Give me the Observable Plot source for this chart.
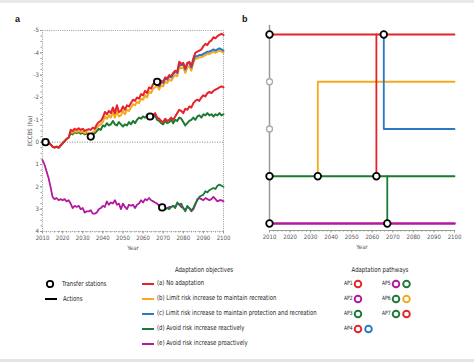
<!DOCTYPE html>
<html><head><meta charset="utf-8">
<script src="https://cdn.jsdelivr.net/npm/d3@7"></script>
<script src="https://cdn.jsdelivr.net/npm/@observablehq/plot@0.6"></script>
<style>
html,body{margin:0;padding:0;background:#fff;}
#fig{position:relative;width:474px;height:362px;overflow:hidden;background:#fff;font-family:"Liberation Sans Narrow","DejaVu Sans Condensed","Liberation Sans",sans-serif;}
#topband{position:absolute;left:0;top:0;width:474px;height:3px;background:#e9e9e9;}
#botband{position:absolute;left:0;top:359px;width:474px;height:3px;background:#e4e4e4;}
.plab{position:absolute;font-family:"Liberation Sans",Arial,sans-serif;font-weight:bold;font-size:9px;color:#111;}
.abs{position:absolute;}
.lg{position:absolute;font-size:7px;color:#222;white-space:nowrap;line-height:1;transform:scaleX(0.85);transform-origin:0 0;}
.lgc{position:absolute;font-size:7px;color:#222;white-space:nowrap;line-height:1;transform:translateX(-50%) scaleX(0.85);transform-origin:50% 0;}
</style></head>
<body><div id="fig"><div id="topband"></div><div id="botband"></div></div>
<script>
// ---------- Panel a data (axis values of ECCBS in ha; negative plotted upward) ----------
const redStart = 2010;
const redVals = [0,-0.02,-0.05,0.02,0.1,0.2,0.24,0.2,0.25,0.15,0.05,-0.05,-0.15,-0.2,
 -0.55,-0.5,-0.6,-0.55,-0.62,-0.55,-0.6,-0.5,-0.55,-0.58,-0.55,-0.65,-0.6,-0.8,-0.9,-0.95,
 -1.1,-1.35,-1.25,-1.4,-1.3,-1.55,-1.3,-1.65,-1.35,-1.4,-1.6,-1.45,-1.65,-1.6,-1.75,-1.9,
 -1.85,-2.0,-1.95,-2.15,-2.1,-2.3,-2.2,-2.45,-2.4,-2.6,-2.65,-2.75,-2.55,-2.75,-2.7,-2.9,
 -2.85,-3.0,-2.95,-3.1,-3.2,-3.15,-3.6,-3.5,-3.55,-3.3,-3.55,-3.6,-3.4,-3.75,-4.0,-4.05,
 -4.1,-4.15,-4.3,-4.4,-4.35,-4.5,-4.55,-4.7,-4.65,-4.75,-4.8,-4.85,-4.8];
const orangeStart = 2024;
const orangeVals = [-0.45,-0.42,-0.5,-0.45,-0.5,-0.45,-0.48,-0.4,-0.45,-0.4,-0.35,-0.45,-0.5,
 -0.65,-0.75,-0.8,-0.9,-1.15,-1.05,-1.2,-1.1,-1.35,-1.1,-1.4,-1.15,-1.2,-1.4,-1.25,-1.45,
 -1.4,-1.55,-1.7,-1.65,-1.8,-1.75,-1.95,-1.9,-2.1,-2.0,-2.25,-2.2,-2.4,-2.45,-2.55,-2.35,
 -2.55,-2.5,-2.7,-2.65,-2.8,-2.75,-2.9,-3.0,-2.95,-3.4,-3.3,-3.35,-3.1,-3.35,-3.4,-3.2,
 -3.55,-3.75,-3.75,-3.8,-3.8,-3.85,-3.9,-3.95,-3.95,-4.0,-4.05,-4.0,-4.05,-4.1,-4.05,-4.0];
const blueStart = 2067;
const blueVals = [-2.7,-2.5,-2.7,-2.65,-2.85,-2.8,-2.95,-2.9,-3.05,-3.15,-3.1,-3.5,-3.45,
 -3.5,-3.25,-3.5,-3.55,-3.35,-3.65,-3.85,-3.85,-3.9,-3.9,-3.95,-4.0,-4.05,-4.05,-4.1,-4.15,
 -4.1,-4.15,-4.2,-4.15,-4.1];
const greenStart = 2010;
const greenVals = [0,-0.02,-0.05,0.02,0.1,0.2,0.24,0.2,0.25,0.15,0.05,-0.05,-0.15,-0.2,
 -0.4,-0.35,-0.45,-0.4,-0.45,-0.38,-0.42,-0.35,-0.4,-0.3,-0.25,-0.35,-0.4,-0.5,-0.6,-0.55,
 -0.75,-0.7,-0.85,-0.75,-0.8,-0.95,-0.8,-0.75,-0.9,-0.8,-0.7,-0.8,-0.75,-0.9,-0.8,-0.95,
 -0.85,-1.0,-1.1,-1.05,-1.15,-1.1,-1.2,-1.15,-1.2,-1.1,-1.2,-1.0,-0.95,-0.85,-0.8,-0.95,
 -0.85,-0.9,-1.0,-0.85,-1.0,-0.95,-1.1,-1.05,-0.9,-0.75,-0.85,-0.95,-1.0,-1.1,-1.0,-1.15,
 -1.2,-1.1,-1.25,-1.2,-1.3,-1.2,-1.25,-1.15,-1.25,-1.2,-1.3,-1.2,-1.25];
const red2Start = 2062;
const red2Vals = [-1.2,-1.25,-1.25,-1.2,-1.3,-1.1,-1.05,-0.95,-0.9,-1.05,-0.95,-1.0,-1.1,
 -1.0,-1.15,-1.3,-1.45,-1.4,-1.3,-1.5,-1.45,-1.6,-1.55,-1.75,-1.85,-1.9,-1.85,-2.0,-2.1,
 -2.05,-2.2,-2.25,-2.2,-2.3,-2.35,-2.4,-2.45,-2.5,-2.45];
const magentaStart = 2010;
const magentaVals = [0.8,1.0,1.3,1.6,2.0,2.45,2.55,2.5,2.6,2.55,2.6,2.55,2.65,2.6,2.75,2.95,
 2.85,2.9,2.85,3.0,2.95,3.15,3.1,3.1,3.05,3.2,3.2,3.15,3.0,2.95,2.85,2.9,2.65,2.8,2.7,2.75,
 2.6,2.8,2.75,3.0,2.75,2.9,3.0,2.8,2.85,2.8,2.95,2.8,2.75,2.6,2.7,2.55,2.6,2.5,2.6,2.65,
 2.7,2.75,2.85,2.9,2.95,3.0,2.95,2.9,2.9,2.85,2.9,2.75,2.8,2.9,2.95,3.05,2.9,2.95,3.1,3.0,
 2.8,2.55,2.5,2.55,2.6,2.5,2.55,2.6,2.55,2.45,2.55,2.65,2.6,2.6,2.65];
const green2Start = 2069;
const green2Vals = [2.9,3.05,3.0,2.95,3.0,2.9,2.85,2.95,2.7,2.8,2.75,2.95,3.1,2.85,2.95,
 3.05,2.95,2.75,2.6,2.45,2.4,2.35,2.2,2.25,2.15,2.1,2.05,2.1,1.95,1.9,1.95,2.0];
const stationYearsA = [2011.5, 2034, 2063.5, 2067, 2069.5];
const stationValsA = [0, -0.25, -1.15, -2.7, 2.92];
const yTicksA = [-5,-4,-3,-2,-1,0,1,2,3,4];
const xTicks = [2010,2020,2030,2040,2050,2060,2070,2080,2090,2100];

// ---------- Panel b data ----------
const pathwayLines = [
  {color:"red", pts:[[2010,5],[2100,5]]},
  {color:"orange", pts:[[2033.5,2],[2033.5,4],[2100,4]]},
  {color:"red", pts:[[2062,5],[2062,2]]},
  {color:"blue", pts:[[2065.6,5],[2065.6,3],[2100,3]]},
  {color:"green", pts:[[2010,2],[2100,2]]},
  {color:"green", pts:[[2067.3,2],[2067.3,1]]},
  {color:"magenta", pts:[[2010,1],[2100,1]]}
];
const grayLine = [[2010,5.19],[2010,1]];
const grayStationYears = [2010, 2010];
const grayStationRows = [4, 3];
const stationYearsB = [2010, 2010, 2010, 2033.5, 2062, 2065.6, 2067.3];
const stationRowsB = [5, 2, 1, 2, 2, 5, 1];

// ---------- Legend data ----------
const objectiveLabels = ["(a) No adaptation","(b) Limit risk increase to maintain recreation",
 "(c) Limit risk increase to maintain protection and recreation","(d) Avoid risk increase reactively",
 "(e) Avoid risk increase proactively"];
const objectiveKeys = ["red","orange","blue","green","magenta"];
const pathwayNames = ["AP1","AP2","AP3","AP4","AP5","AP6","AP7"];
const pathwayColors = [["red"],["magenta"],["green"],["red","blue"],["magenta","green"],["green","orange"],["green","red"]];

const palette = {red:"#e5232a", orange:"#f6a91c", blue:"#2a78c6", green:"#1d7a33", magenta:"#b3189e", gray:"#9a9a9a"};
const font = "'Liberation Sans Narrow','DejaVu Sans Condensed','Liberation Sans',sans-serif";

function series(name, start, vals){ return vals.map((v,i)=>({name, year:start+i, v})); }
const dataA = [
  ...series("green", greenStart, greenVals),
  ...series("red2", red2Start, red2Vals),
  ...series("orange", orangeStart, orangeVals),
  ...series("blue", blueStart, blueVals),
  ...series("red", redStart, redVals),
  ...series("magenta", magentaStart, magentaVals),
  ...series("green2", green2Start, green2Vals)
];
const colorOf = {green:palette.green, red2:palette.red, orange:palette.orange, blue:palette.blue, red:palette.red, magenta:palette.magenta, green2:palette.green};
const order = ["green","red2","orange","blue","red","magenta","green2"];

const fig = document.getElementById("fig");

const plotA = Plot.plot({
  width: 235, height: 255,
  marginLeft: 42, marginRight: 12, marginTop: 30, marginBottom: 24,
  x: {domain:[2010,2100]},
  y: {domain:[4,-5]},
  style: {fontSize:"6px", fontFamily:font, color:"#555", background:"transparent", overflow:"visible"},
  marks: [
    Plot.frame({stroke:"#9a9a9a", strokeDasharray:"1,1.2"}),
    Plot.ruleY([0], {stroke:"#888", strokeDasharray:"1,1.5"}),
    Plot.axisY({ticks: d3.range(-5,4.001,0.25), tickSize: 1.5, text: null, stroke:"#999", label:null}),
    Plot.axisY({ticks: yTicksA, tickSize: 2, tickPadding: 1.5, stroke:"#999", label:"ECCBS (ha)", labelAnchor:"center", labelArrow:"none", labelOffset: 15, tickFormat: d=>String(d)}),
    Plot.axisX({ticks: d3.range(2010,2100.1,2), tickSize: 1.5, text: null, stroke:"#999", label:null}),
    Plot.axisX({ticks: xTicks, tickSize: 2.5, tickPadding: 2, stroke:"#999", tickFormat: d=>String(d), label:"Year", labelAnchor:"center", labelArrow:"none", labelOffset: 18}),
    ...order.map(n => Plot.line(dataA.filter(d=>d.name===n), {x:"year", y:"v", stroke: colorOf[n], strokeWidth: n==="magenta"||n==="green2"?1.8:2})),
    Plot.dot(stationYearsA.map((y,i)=>({y, v:stationValsA[i]})), {x:"y", y:"v", r:3.2, stroke:"#000", strokeWidth:1.8, fill:"#fff"})
  ]
});
plotA.style.position="absolute"; plotA.style.left="0px"; plotA.style.top="0px";
fig.appendChild(plotA);

const linesB = pathwayLines.flatMap((p,k)=>p.pts.map(([x,y])=>({k, x, y, color:p.color})));
const plotB = Plot.plot({
  width: 239, height: 255,
  marginLeft: 34, marginRight: 20, marginTop: 25, marginBottom: 25,
  x: {domain:[2010,2100]},
  y: {domain:[0.852,5.19], axis:null},
  style: {fontSize:"6px", fontFamily:font, color:"#555", background:"transparent", overflow:"visible"},
  marks: [
    Plot.axisX({ticks: d3.range(2010,2100.1,2), tickSize: 1.5, text: null, stroke:"#999", label:null}),
    Plot.axisX({ticks: xTicks, tickSize: 2.5, tickPadding: 2, stroke:"#999", tickFormat: d=>String(d), label:"Year", labelAnchor:"center", labelArrow:"none", labelOffset: 18}),
    Plot.frame({anchor:"bottom", stroke:"#999"}),
    Plot.line(grayLine.map(([x,y])=>({x,y})), {x:"x", y:"y", stroke:palette.gray, strokeWidth:1.5}),
    Plot.line(linesB, {x:"x", y:"y", z:"k", stroke: d=>palette[d.color], strokeWidth: d=>d.color==="magenta"?2.6:1.8}),
    Plot.dot(grayStationYears.map((x,i)=>({x, y:grayStationRows[i]})), {x:"x", y:"y", r:3, stroke:"#aaa", strokeWidth:1.3, fill:"#fff"}),
    Plot.dot(stationYearsB.map((x,i)=>({x, y:stationRowsB[i]})), {x:"x", y:"y", r:3.3, stroke:"#000", strokeWidth:1.8, fill:"#fff"})
  ]
});
plotB.style.position="absolute"; plotB.style.left="235px"; plotB.style.top="0px";
fig.appendChild(plotB);

function addDiv(cls, text, x, y, extra){ const d=document.createElement("div"); d.className=cls; d.textContent=text; d.style.left=x+"px"; d.style.top=y+"px"; if(extra) Object.assign(d.style, extra); fig.appendChild(d); return d; }
addDiv("plab","a",15,14);
addDiv("plab","b",242,14);

function svgEl(w,h,inner){ const d=document.createElement("div"); d.className="abs"; d.innerHTML=`<svg width="${w}" height="${h}" style="display:block">${inner}</svg>`; return d; }
function place(el,x,y){ el.style.left=x+"px"; el.style.top=y+"px"; fig.appendChild(el); }
const rowY = [284,299,314,329,344];
place(svgEl(12,12,`<circle cx="6" cy="6" r="3.2" fill="#fff" stroke="#000" stroke-width="1.8"/>`), 44, 278);
addDiv("lg","Transfer stations",62,280.5);
place(svgEl(14,6,`<line x1="1" y1="3" x2="13" y2="3" stroke="#000" stroke-width="2"/>`), 44, 296);
addDiv("lg","Actions",63,295.5);
addDiv("lgc","Adaptation objectives",204,266.5);
objectiveLabels.forEach((t,i)=>{
  place(svgEl(14,6,`<line x1="1" y1="3" x2="13" y2="3" stroke="${palette[objectiveKeys[i]]}" stroke-width="2"/>`), 141, rowY[i]-3);
  addDiv("lg", t, 157, rowY[i]-4);
});
addDiv("lgc","Adaptation pathways",380,266.5);
pathwayNames.forEach((n,i)=>{
  const col = i<4?0:1, row = i<4?i:i-4;
  const x0 = col===0?344:382, y0 = rowY[row];
  addDiv("lg", n, x0, y0-3.5, {fontSize:"5.8px"});
  const cols = pathwayColors[i];
  const inner = cols.map((c,j)=>`<circle cx="${5+j*10.5}" cy="5" r="3.3" fill="#fff" stroke="${palette[c]}" stroke-width="1.9"/>`).join("");
  place(svgEl(26,10,inner), x0+9, y0-5);
});
</script></body></html>
